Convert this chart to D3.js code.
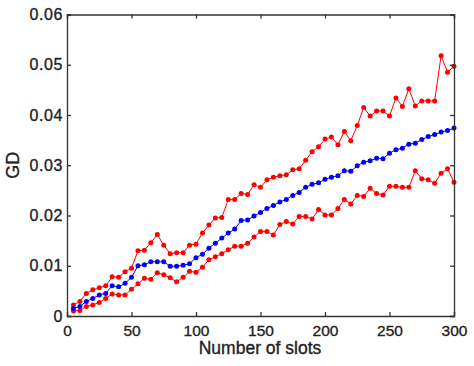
<!DOCTYPE html>
<html>
<head>
<meta charset="utf-8">
<script src="https://cdn.jsdelivr.net/npm/d3@7"></script>
<style>
  body { margin: 0; background: #fff; }
  text { font-family: "Liberation Sans", Arial, sans-serif; fill: #222; stroke: #222; stroke-width: 0.35px; }
</style>
</head>
<body>
<div id="chart"></div>
<script>
// Data (GD values x 1e-3, one point every 5 slots)
const slots = d3.range(5, 301, 5)

const upper = [2.2, 2.9, 4.5, 5.2, 5.6, 6.0, 7.8, 7.7, 8.8, 9.5,
  13.0, 13.1, 14.6, 16.2, 14.1, 12.4, 12.6, 12.6, 14.1, 14.3,
  16.5, 18.1, 19.5, 19.6, 23.2, 23.2, 24.4, 24.2, 26.1, 25.6,
  27.1, 27.6, 27.9, 28.1, 29.1, 29.3, 31.0, 32.7, 33.7, 35.2,
  35.6, 34.1, 36.7, 34.9, 37.9, 41.5, 39.8, 40.8, 40.8, 39.8,
  43.4, 41.7, 45.2, 41.8, 42.8, 42.8, 42.8, 51.8, 48.5, 49.7]

const mean = [1.5, 1.9, 2.9, 3.5, 4.2, 4.5, 6.0, 5.8, 6.5, 7.7,
  10.0, 10.2, 10.8, 10.8, 10.8, 9.9, 9.9, 10.1, 10.4, 11.6,
  12.3, 13.5, 14.5, 15.5, 16.5, 17.3, 19.0, 19.1, 19.9, 20.6,
  21.4, 22.0, 22.7, 23.2, 24.0, 24.6, 25.6, 26.2, 26.5, 27.2,
  27.6, 27.9, 28.9, 28.8, 29.9, 30.6, 30.9, 31.4, 31.3, 32.4,
  33.1, 33.4, 34.2, 34.4, 35.1, 35.7, 36.1, 36.6, 36.9, 37.4]

const lower = [1.0, 1.1, 1.9, 2.2, 2.7, 3.5, 4.4, 4.2, 4.2, 5.3,
  6.4, 7.5, 7.3, 8.6, 8.2, 7.6, 6.8, 7.7, 8.9, 8.7,
  9.7, 11.2, 11.8, 12.4, 13.2, 13.9, 13.9, 14.5, 15.7, 16.8,
  16.8, 16.1, 18.2, 18.8, 18.3, 19.8, 19.8, 19.3, 21.2, 20.1,
  20.1, 21.4, 23.2, 22.3, 24.0, 23.8, 25.4, 24.4, 24.1, 25.8,
  25.8, 25.6, 25.6, 28.9, 27.3, 27.1, 26.4, 28.4, 29.3, 26.6]

const xTicks = [0, 50, 100, 150, 200, 250, 300]
const yTicks = [0, 0.01, 0.02, 0.03, 0.04, 0.05, 0.06]

function draw() {
  // Dimensions
  const dimensions = {
    width: 474,
    height: 366,
    left: 67,
    right: 454,
    top: 14.5,
    bottom: 316,
  }

  const svg = d3.select('#chart')
    .append('svg')
    .attr('width', dimensions.width)
    .attr('height', dimensions.height)

  // Scales
  const xScale = d3.scaleLinear()
    .domain([0, 300])
    .range([dimensions.left, dimensions.right])

  const yScale = d3.scaleLinear()
    .domain([0, 0.06])
    .range([dimensions.bottom, dimensions.top])

  const series = [
    { values: upper, color: '#ff0000' },
    { values: lower, color: '#ff0000' },
    { values: mean, color: '#0000ff' },
  ].map(s => ({
    color: s.color,
    points: s.values.map((v, i) => ({ x: slots[i], y: v / 1000 })),
  }))

  const line = d3.line()
    .x(d => xScale(d.x))
    .y(d => yScale(d.y))

  // Lines + markers
  const groups = svg.append('g')
    .selectAll('g')
    .data(series)
    .join('g')

  groups.append('path')
    .attr('d', d => line(d.points))
    .attr('fill', 'none')
    .attr('stroke', d => d.color)
    .attr('stroke-width', 1)

  groups.each(function (s) {
    d3.select(this).selectAll('circle')
      .data(s.points)
      .join('circle')
      .attr('cx', d => xScale(d.x))
      .attr('cy', d => yScale(d.y))
      .attr('r', 2.5)
      .attr('fill', s.color)
  })

  // Axes (ticks inside, mirrored like a boxed plot)
  const tickLen = 4
  const axisColor = '#333'

  const xAxis = d3.axisBottom(xScale)
    .tickValues(xTicks)
    .tickSize(-tickLen)
    .tickPadding(9)
    .tickFormat(d3.format('d'))

  const yAxis = d3.axisLeft(yScale)
    .tickValues(yTicks)
    .tickSize(-tickLen)
    .tickPadding(4)
    .tickFormat(d => d === 0 ? '0' : d3.format('.2f')(d))

  svg.append('g')
    .attr('transform', `translate(0, ${dimensions.bottom})`)
    .call(xAxis)
    .selectAll('.tick text')
    .style('font-size', '15.5px')

  svg.append('g')
    .attr('transform', `translate(${dimensions.left}, 0)`)
    .call(yAxis)
    .selectAll('.tick text')
    .style('font-size', '16px')
    .style('letter-spacing', '0.6px')

  svg.append('g')
    .attr('transform', `translate(0, ${dimensions.top})`)
    .call(d3.axisTop(xScale).tickValues(xTicks).tickSize(-tickLen).tickFormat(''))

  svg.append('g')
    .attr('transform', `translate(${dimensions.right}, 0)`)
    .call(d3.axisRight(yScale).tickValues(yTicks).tickSize(-tickLen).tickFormat(''))

  svg.selectAll('.domain, .tick line')
    .attr('stroke', axisColor)
    .attr('stroke-width', 1.3)

  svg.selectAll('.tick text')
    .attr('fill', '#222')

  // Labels
  svg.append('text')
    .attr('x', 260)
    .attr('y', 354)
    .attr('text-anchor', 'middle')
    .style('font-size', '17.5px')
    .text('Number of slots')

  svg.append('text')
    .attr('transform', `translate(19, ${(dimensions.top + dimensions.bottom) / 2}) rotate(-90)`)
    .attr('text-anchor', 'middle')
    .style('font-size', '18px')
    .text('GD')
}

draw()
</script>
</body>
</html>
